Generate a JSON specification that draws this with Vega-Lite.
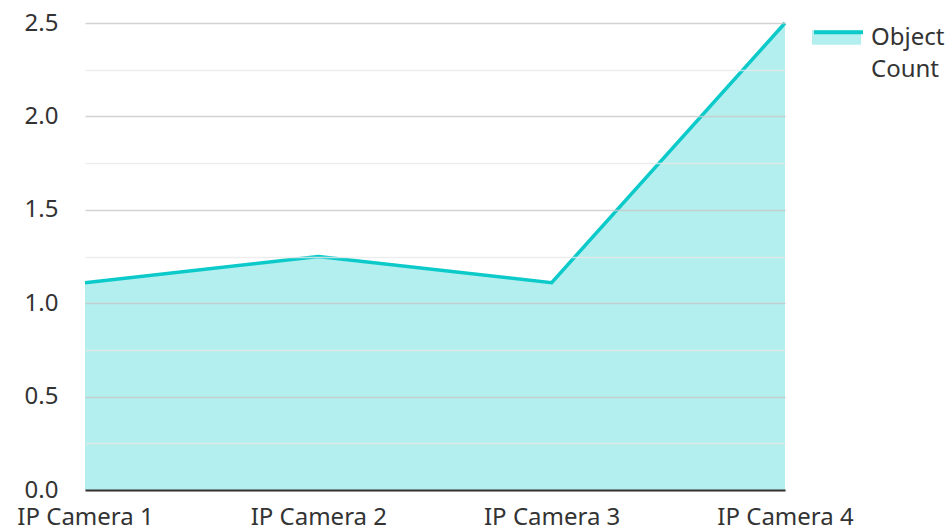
{
  "$schema": "https://vega.github.io/schema/vega-lite/v6.json",
  "width": 700,
  "height": 467,
  "autosize": {"type": "none"},
  "padding": {"left": 85, "top": 23, "right": 164, "bottom": 41},
  "config": {"view": {"stroke": null}, "font": "Noto Sans"},
  "data": {
    "values": [
      {"camera": "IP Camera 1", "count": 1.11, "series": "Object Count"},
      {"camera": "IP Camera 2", "count": 1.25, "series": "Object Count"},
      {"camera": "IP Camera 3", "count": 1.11, "series": "Object Count"},
      {"camera": "IP Camera 4", "count": 2.5, "series": "Object Count"}
    ]
  },
  "encoding": {
    "x": {
      "field": "camera",
      "type": "ordinal",
      "sort": null,
      "scale": {"type": "point", "padding": 0},
      "axis": {
        "title": null,
        "labelAngle": 0,
        "labelFontSize": 24,
        "labelColor": "#333333",
        "labelPadding": 15,
        "ticks": false,
        "grid": false,
        "domainColor": "#333333",
        "domainWidth": 2,
        "zindex": 1
      }
    },
    "y": {
      "field": "count",
      "type": "quantitative",
      "scale": {"domain": [0, 2.5], "nice": false, "zero": true},
      "axis": {
        "title": null,
        "values": [0, 0.25, 0.5, 0.75, 1, 1.25, 1.5, 1.75, 2, 2.25, 2.5],
        "labelExpr": "(datum.value * 2) % 1 === 0 ? format(datum.value, '.1f') : ''",
        "labelFontSize": 24,
        "labelColor": "#333333",
        "labelPadding": 27,
        "ticks": false,
        "domain": false,
        "grid": true,
        "gridColor": {"condition": {"test": "(datum.value * 2) % 1 === 0", "value": "#c8c8c8"}, "value": "#e8e8e8"},
        "gridWidth": 1.5,
        "gridOpacity": 0.8,
        "zindex": 1
      }
    }
  },
  "layer": [
    {
      "mark": {"type": "area"},
      "encoding": {
        "fill": {
          "field": "series",
          "type": "nominal",
          "scale": {"range": ["#b2efee"]},
          "legend": {
            "orient": "none",
            "legendX": 727,
            "legendY": -10,
            "title": null,
            "padding": 0,
            "symbolType": "M-1,-0.3H1V0.3H-1Z",
            "symbolSize": 2400,
            "symbolStrokeWidth": 0,
            "symbolOpacity": 1,
            "labelExpr": "['Object', 'Count']",
            "labelFontSize": 24,
            "labelColor": "#333333",
            "labelOffset": 10,
            "labelLimit": 200,
            "encode": {"labels": {"update": {"lineHeight": {"value": 32}}}}
          }
        }
      }
    },
    {
      "mark": {"type": "line", "strokeWidth": 3.5},
      "encoding": {
        "stroke": {
          "field": "series",
          "type": "nominal",
          "scale": {"range": ["#0ccaca"]},
          "legend": {
            "orient": "none",
            "legendX": 727,
            "legendY": -10,
            "title": null,
            "padding": 0,
            "symbolType": "M-1,-0.3H1",
            "symbolSize": 2400,
            "symbolStrokeWidth": 4,
            "symbolFillColor": "transparent",
            "labelExpr": "['', '']",
            "labelFontSize": 24,
            "labelOffset": 10,
            "encode": {"labels": {"update": {"lineHeight": {"value": 32}}}}
          }
        }
      }
    }
  ]
}
